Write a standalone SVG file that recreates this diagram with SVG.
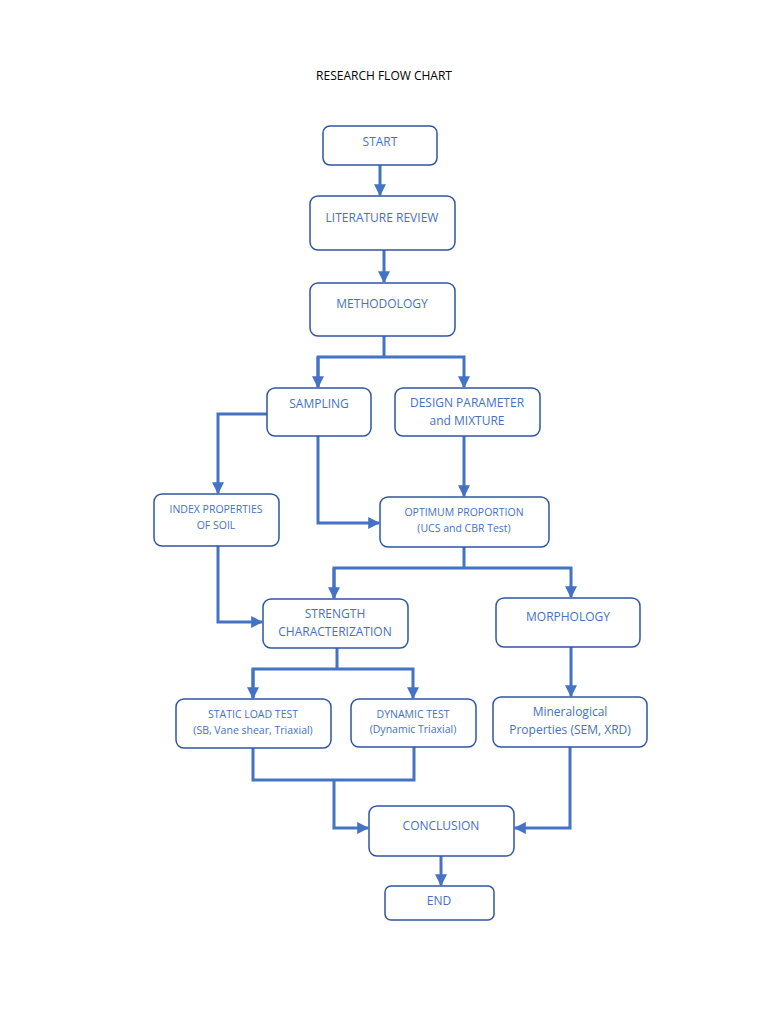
<svg xmlns="http://www.w3.org/2000/svg" width="768" height="1024" viewBox="0 0 768 1024">
<style>
.b{fill:#fff;stroke:#2F55A4;stroke-width:1.5}
.t{font-family:"Open Sans","Liberation Sans",sans-serif;fill:#4472C4;text-anchor:middle}
.c{fill:none;stroke:#4472C4;stroke-width:3}
</style>
<defs><marker id="a" viewBox="0 0 10 10" refX="9" refY="5" markerWidth="4" markerHeight="4" orient="auto"><path d="M0,0L10,5L0,10z" fill="#4472C4"/></marker></defs>
<rect width="768" height="1024" fill="#fff"/>
<text x="384" y="80" font-family="'Open Sans','Liberation Sans',sans-serif" font-size="12" text-anchor="middle" fill="#000">RESEARCH FLOW CHART</text>
<g id="connectors">
<path class="c" d="M380,165V195" marker-end="url(#a)"/>
<path class="c" d="M384,250V282" marker-end="url(#a)"/>
<path class="c" d="M384,336V357"/>
<path class="c" d="M318,387V357H464V387" marker-end="url(#a)"/>
<path class="c" d="M318,357V387" marker-end="url(#a)"/>
<path class="c" d="M267,414H218V493" marker-end="url(#a)"/>
<path class="c" d="M318,436V523H379" marker-end="url(#a)"/>
<path class="c" d="M464,436V496" marker-end="url(#a)"/>
<path class="c" d="M218,546L218,622H262" marker-end="url(#a)"/>
<path class="c" d="M464,547V568"/>
<path class="c" d="M334,598V568H571V597" marker-end="url(#a)"/>
<path class="c" d="M334,568V598" marker-end="url(#a)"/>
<path class="c" d="M337,648V669"/>
<path class="c" d="M253,698V669H413V698" marker-end="url(#a)"/>
<path class="c" d="M253,669V698" marker-end="url(#a)"/>
<path class="c" d="M571,647V696" marker-end="url(#a)"/>
<path class="c" d="M253,748V780H414V747"/>
<path class="c" d="M334,780V828H368" marker-end="url(#a)"/>
<path class="c" d="M570,747V828H515" marker-end="url(#a)"/>
<path class="c" d="M441,856V885" marker-end="url(#a)"/>
</g>
<g id="start"><rect class="b" x="323" y="126" width="114" height="39" rx="7"/><text class="t" x="380" y="146" font-size="12">START</text></g>
<g id="lit"><rect class="b" x="310" y="196" width="145" height="54" rx="8"/><text class="t" x="382" y="222" font-size="12">LITERATURE REVIEW</text></g>
<g id="meth"><rect class="b" x="310" y="283" width="145" height="53" rx="8"/><text class="t" x="382" y="308" font-size="12">METHODOLOGY</text></g>
<g id="sampling"><rect class="b" x="267" y="388" width="104" height="48" rx="8"/><text class="t" x="319" y="408" font-size="12">SAMPLING</text></g>
<g id="design"><rect class="b" x="395" y="388" width="145" height="48" rx="8"/><text class="t" x="467" y="407" font-size="12">DESIGN PARAMETER</text><text class="t" x="467" y="425" font-size="12">and MIXTURE</text></g>
<g id="index"><rect class="b" x="154" y="494" width="125" height="52" rx="8"/><text class="t" x="216" y="513" font-size="10.5">INDEX PROPERTIES</text><text class="t" x="216" y="529" font-size="10.5">OF SOIL</text></g>
<g id="optimum"><rect class="b" x="380" y="497" width="169" height="50" rx="8"/><text class="t" x="464" y="516" font-size="10.5">OPTIMUM PROPORTION</text><text class="t" x="464" y="532" font-size="10.5">(UCS and CBR Test)</text></g>
<g id="strength"><rect class="b" x="263" y="599" width="145" height="49" rx="8"/><text class="t" x="335" y="618" font-size="12">STRENGTH</text><text class="t" x="335" y="636" font-size="12">CHARACTERIZATION</text></g>
<g id="morph"><rect class="b" x="496" y="598" width="144" height="49" rx="8"/><text class="t" x="568" y="621" font-size="12">MORPHOLOGY</text></g>
<g id="static"><rect class="b" x="176" y="699" width="155" height="49" rx="8"/><text class="t" x="253" y="718" font-size="10.5">STATIC LOAD TEST</text><text class="t" x="253" y="734" font-size="10.5">(SB, Vane shear, Triaxial)</text></g>
<g id="dynamic"><rect class="b" x="351" y="699" width="125" height="48" rx="8"/><text class="t" x="413" y="718" font-size="10.5">DYNAMIC TEST</text><text class="t" x="413" y="733" font-size="10.5">(Dynamic Triaxial)</text></g>
<g id="mineral"><rect class="b" x="493" y="697" width="154" height="50" rx="8"/><text class="t" x="570" y="716" font-size="12">Mineralogical</text><text class="t" x="570" y="734" font-size="12">Properties (SEM, XRD)</text></g>
<g id="conclusion"><rect class="b" x="369" y="806" width="145" height="50" rx="8"/><text class="t" x="441" y="830" font-size="12">CONCLUSION</text></g>
<g id="end"><rect class="b" x="385" y="886" width="109" height="34" rx="6"/><text class="t" x="439" y="905" font-size="12">END</text></g>
</svg>
